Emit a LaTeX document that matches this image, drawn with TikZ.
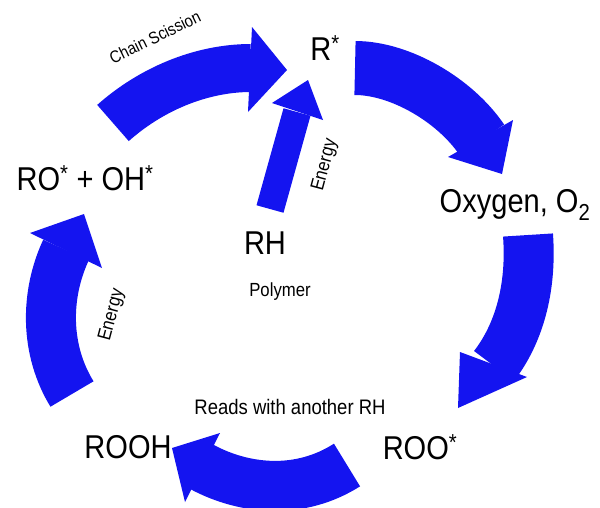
\documentclass[tikz,border=0pt]{standalone}
\usepackage{fontspec}
\setmainfont{Liberation Sans}
\definecolor{ab}{RGB}{20,20,240}
\begin{document}
\begin{tikzpicture}[x=1pt,y=-1pt,
  band/.style={draw=ab,line width=#1},
  head/.style={fill=ab},
  lbl/.style={inner sep=0pt,font=\fontsize{#1}{#1}\selectfont}]
\newcommand{\nw}[1]{\scalebox{0.88}[1]{#1}}
\useasboundingbox (0,0) rectangle (600,507);
% arrow 1: RO*+OH* -> R*
\draw[band=48] (113,123) .. controls (150,90) and (200,68) .. (251,68);
\fill[head] (252,27) -- (287,70) -- (248,112) -- cycle;
% arrow 2: R* -> Oxygen
\draw[band=54] (355,68) .. controls (400,68) and (455,100) .. (482,140);
\fill[head] (513,120) -- (502,174) -- (448,157) -- cycle;
% arrow 3: Oxygen -> ROO*
\draw[band=50] (528,235) .. controls (532,290) and (518,335) .. (494,366);
\fill[head] (527,377) -- (458,408) -- (460,352) -- cycle;
% arrow 4: ROO* -> ROOH
\draw[band=50] (347,465) .. controls (300,495) and (245,490) .. (202,467);
\fill[head] (220,433) -- (172,448) -- (185,502) -- cycle;
% arrow 5: ROOH -> RO*+OH*
\draw[band=50] (72,394) .. controls (45,350) and (45,295) .. (66,250);
\fill[head] (30,233) -- (84,214) -- (102,268) -- cycle;
% arrow 6: RH -> R*
\draw[band=28] (270,209) -- (297,112);
\fill[head] (272,103) -- (308,80) -- (323,120) -- cycle;
% texts
\node[lbl=33] (ro) at (85,178) {\nw{RO\textsuperscript{*} + OH\textsuperscript{*}}};
\node[lbl=33] (r) at (325,48) {\nw{R\textsuperscript{*}}};
\node[lbl=33] (ox) at (515,205) {\nw{Oxygen, O\textsubscript{2}}};
\node[lbl=33] (roo) at (420,447) {\nw{ROO\textsuperscript{*}}};
\node[lbl=33] (rooh) at (128,447) {\nw{ROOH}};
\node[lbl=33] (rh) at (265,243) {\nw{RH}};
\node[lbl=19] (poly) at (280,292) {\nw{Polymer}};
\node[lbl=21] (reacts) at (290,407) {\nw{Reads with another RH}};
\node[lbl=17,rotate=26] (cs) at (155,37) {\nw{Chain Scission}};
\node[lbl=19,rotate=75] (e1) at (325,165) {\nw{Energy}};
\node[lbl=19,rotate=75] (e2) at (112,315) {\nw{Energy}};
\end{tikzpicture}
\end{document}
